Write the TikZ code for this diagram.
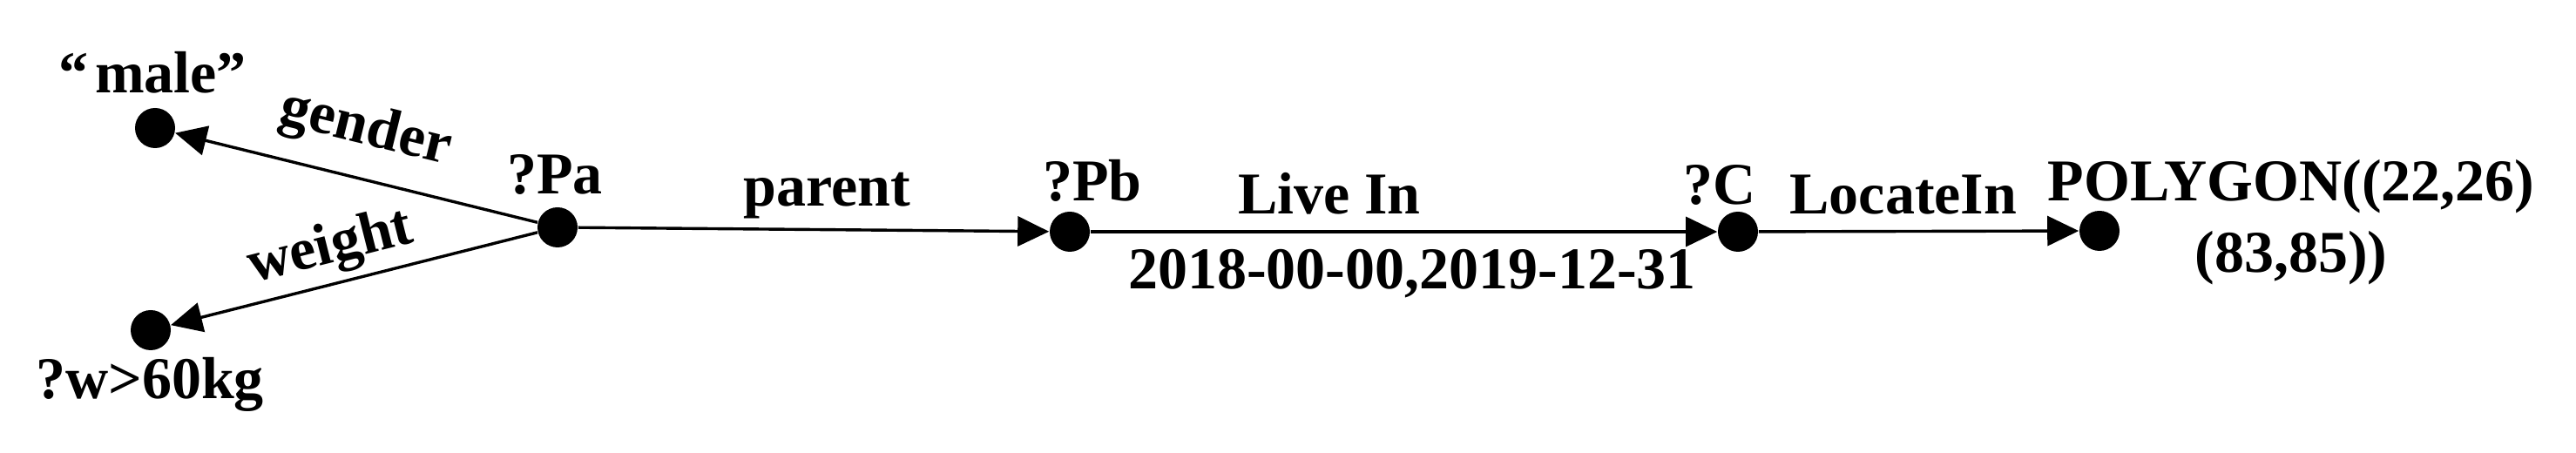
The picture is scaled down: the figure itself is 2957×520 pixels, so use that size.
\documentclass[tikz,border=0pt]{standalone}
\usepackage{fontspec}
\setmainfont{Liberation Serif}
\usetikzlibrary{arrows.meta}
\begin{document}
\begin{tikzpicture}[x=0.25pt,y=-0.25pt,
  vert/.style={circle,fill=black,inner sep=0pt,minimum size=11.5pt},
  txt/.style={font=\fontsize{17pt}{20.5pt}\selectfont\bfseries, inner sep=0pt},
  rel/.style={-{Triangle[length=9pt,width=8.5pt]}, line width=0.85pt},
]
\useasboundingbox (0,0) rectangle (2957,520);
% vertices
\node[vert] (male) at (178,147) {};
\node[vert] (w) at (173,379) {};
\node[vert] (Pa) at (640,261) {};
\node[vert] (Pb) at (1228,266) {};
\node[vert] (C) at (1995,266) {};
\node[vert] (Poly) at (2410,265) {};
% vertex labels
\node[txt,anchor=base] (tmale) at (175,107) {“\kern0.12em male”};
\node[txt,anchor=base] (tw) at (172,458) {?w>60kg};
\node[txt,anchor=base] (tPa) at (637,223) {?Pa};
\node[txt,anchor=base] (tPb) at (1254,231) {?Pb};
\node[txt,anchor=base] (tC) at (1974,235) {?C};
\node[txt,anchor=north,align=center] (tPoly) at (2630,183) {POLYGON((22,26)\\(83,85))};
% relations
\draw[rel] (Pa) -- node[txt,pos=0.507,sloped,above=5.75pt] (lgender) {gender} (male);
\draw[rel] (Pa) -- node[txt,pos=0.541,sloped,above=1.75pt] (lweight) {weight} (w);
\draw[rel] (Pa) -- node[txt,pos=0.528,above=2.75pt] (lparent) {parent} (Pb);
\draw[rel] (Pb) -- node[txt,pos=0.381,above=4.5pt] (llive) {Live In}
                   node[txt,pos=0.513,below=4.75pt] (ldate) {2018-00-00,2019-12-31} (C);
\draw[rel] (C) -- node[txt,pos=0.452,above=4.5pt] (lloc) {LocateIn} (Poly);
\end{tikzpicture}
\end{document}
